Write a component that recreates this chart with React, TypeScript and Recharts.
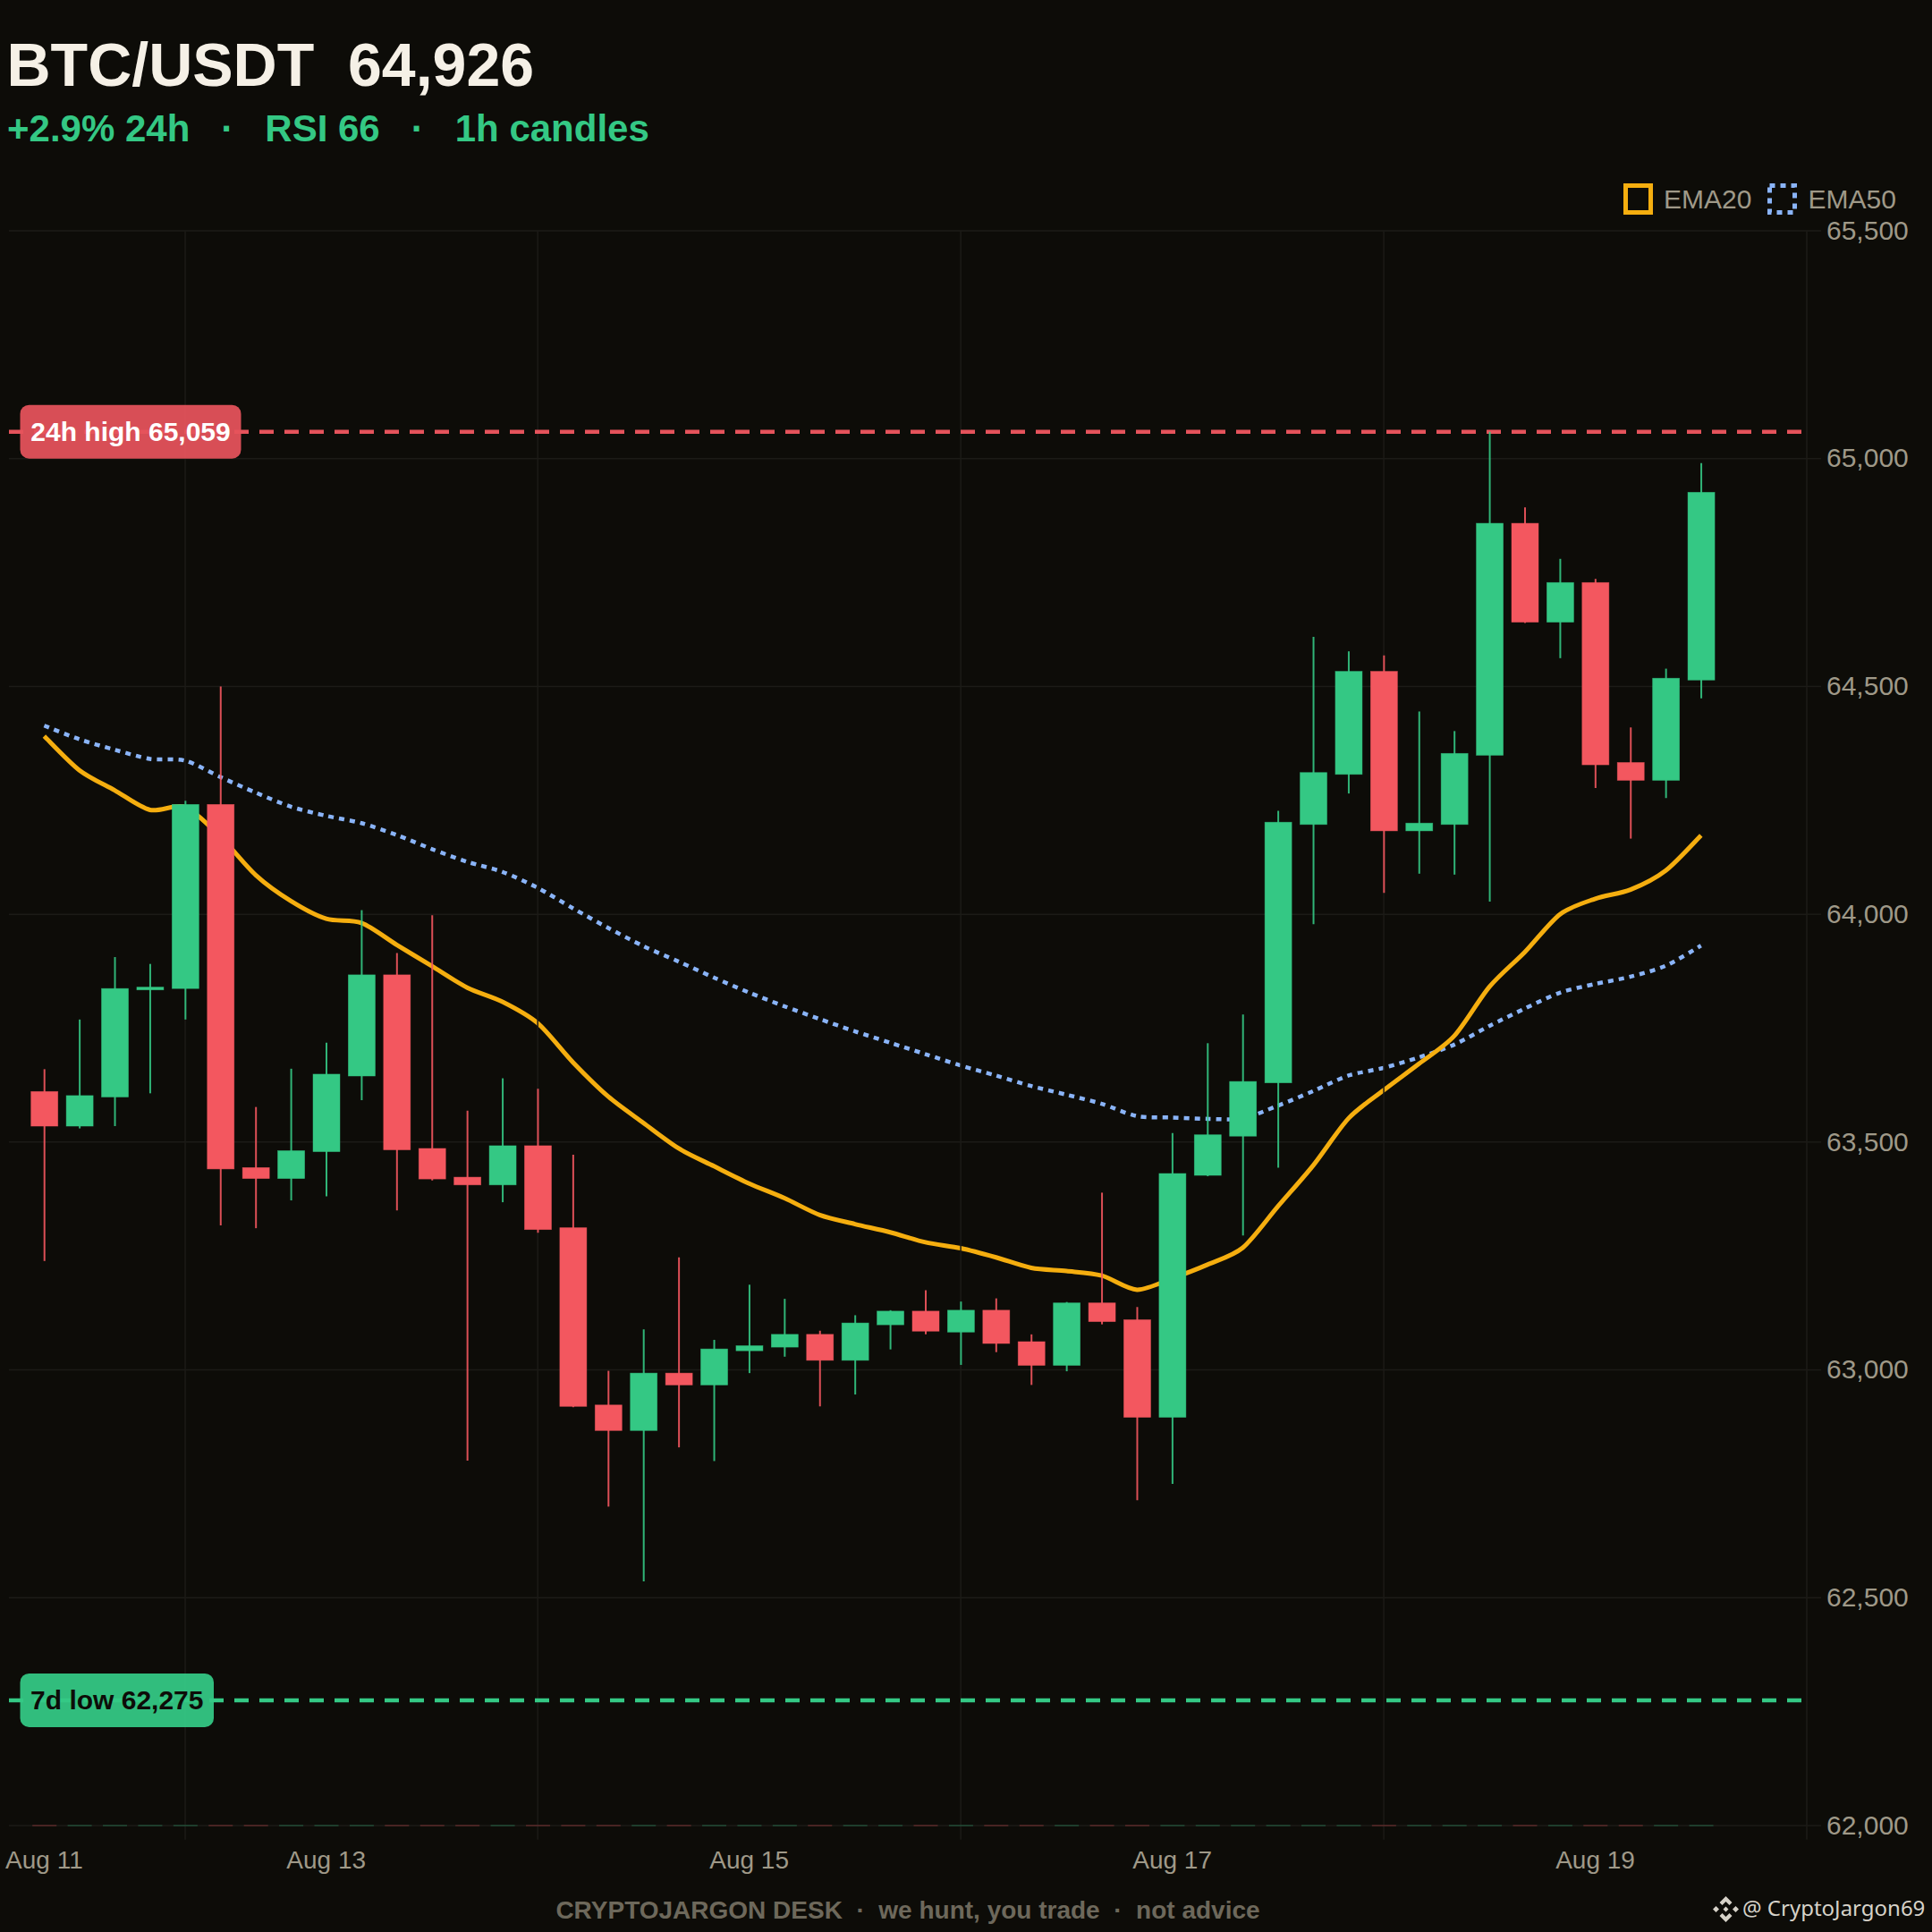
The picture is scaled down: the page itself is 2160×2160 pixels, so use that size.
import React from 'react';
import { ComposedChart, Bar, Line, XAxis, YAxis, CartesianGrid, ReferenceLine } from 'recharts';

const opens = [63611,63535,63599,63834,63837,64241,63444,63420,63479,63645,63867,63486,63423,63406,63492,63312,62923,62867,62993,62967,63042,63050,63078,63021,63099,63129,63083,63131,63062,63010,63147,63110,62896,63427,63513,63630,64197,64307,64533,64183,64197,64349,64858,64641,64728,64333,64294,64514];
const closes = [63535,63602,63837,63840,64241,63441,63420,63481,63649,63867,63483,63419,63406,63492,63308,62920,62867,62993,62967,63046,63053,63078,63021,63103,63129,63085,63131,63058,63010,63147,63106,62896,63431,63516,63633,64202,64311,64533,64183,64200,64353,64858,64641,64728,64328,64294,64518,64926];
const highs = [63660,63769,63906,63891,64249,64500,63577,63661,63718,64009,63915,63998,63569,63640,63617,63472,62998,63089,63247,63066,63187,63156,63086,63120,63131,63175,63150,63157,63078,63149,63389,63138,63520,63717,63780,64227,64609,64577,64568,64445,64402,65059,64893,64780,64736,64410,64539,64990];
const lows = [63239,63530,63535,63607,63769,63317,63311,63372,63381,63592,63350,63416,62801,63368,63301,62918,62700,62536,62830,62800,62993,63029,62920,62946,63045,63078,63011,63039,62967,62997,63100,62714,62750,63425,63295,63444,63978,64265,64047,64089,64087,64028,64639,64562,64277,64166,64255,64474];
const ema20 = [64391,64316,64272,64229,64235,64170,64086,64029,63990,63981,63933,63886,63839,63808,63761,63675,63600,63542,63486,63447,63409,63377,63340,63320,63302,63280,63267,63247,63224,63217,63207,63176,63201,63231,63268,63359,63449,63552,63614,63672,63733,63841,63917,64000,64034,64054,64096,64173];
const ema50 = [64414,64384,64361,64341,64337,64301,64267,64236,64216,64200,64174,64143,64115,64093,64058,64013,63970,63930,63896,63861,63828,63798,63770,63743,63718,63693,63668,63646,63623,63604,63584,63557,63554,63551,63552,63580,63612,63646,63663,63686,63714,63755,63793,63828,63847,63863,63887,63931];

const xTickIndexes = [0, 8, 20, 32, 44];
const xTickLabels = ['Aug 11', 'Aug 13', 'Aug 15', 'Aug 17', 'Aug 19'];
const yTicks = [62000, 62500, 63000, 63500, 64000, 64500, 65000, 65500];
const verticalGridIndexes = [4, 14, 26, 38, 50];
const high24h = 65059;
const low7d = 62275;

const rows = opens.map((open, i) => ({
  i,
  open,
  close: closes[i],
  high: highs[i],
  low: lows[i],
  range: [lows[i], highs[i]],
  ema20: ema20[i],
  ema50: ema50[i],
}));

const BG = '#0d0c08';
const GRID = '#1c1b17';
const MUTED = '#9f9988';
const GREEN = '#34c884';
const RED = '#f3575f';
const FONT = '"Liberation Sans", Arial, sans-serif';

// A gently rounded line curve: corners are softened without the overshoot of a spline.
const softCurve = (ctx: any) => {
  const k = 0.14;
  let pts: number[][] = [];
  return {
    areaStart() {},
    areaEnd() {},
    lineStart() {
      pts = [];
    },
    point(x: number, y: number) {
      pts.push([+x, +y]);
    },
    lineEnd() {
      if (!pts.length) return;
      ctx.moveTo(pts[0][0], pts[0][1]);
      for (let i = 0; i < pts.length - 1; i++) {
        const p0 = pts[Math.max(i - 1, 0)];
        const p1 = pts[i];
        const p2 = pts[i + 1];
        const p3 = pts[Math.min(i + 2, pts.length - 1)];
        ctx.bezierCurveTo(
          p1[0] + (p2[0] - p0[0]) * k,
          p1[1] + (p2[1] - p0[1]) * k,
          p2[0] - (p3[0] - p1[0]) * k,
          p2[1] - (p3[1] - p1[1]) * k,
          p2[0],
          p2[1],
        );
      }
    },
  };
};

const Candle = (props: any) => {
  const { x, y, width, height, payload } = props;
  const perUnit = height / (payload.high - payload.low);
  const at = (v: number) => y + (payload.high - v) * perUnit;
  const up = payload.close >= payload.open;
  const color = up ? GREEN : RED;
  const cx = x + width / 2;
  const top = at(Math.max(payload.open, payload.close));
  const bottom = at(Math.min(payload.open, payload.close));
  const base = at(62000);
  return (
    <g>
      <line x1={cx - 13.5} x2={cx + 13.5} y1={base} y2={base} stroke={color} strokeWidth={1.5} strokeOpacity={0.3} />
      <line x1={cx} x2={cx} y1={y} y2={y + height} stroke={color} strokeWidth={2} strokeOpacity={0.9} />
      <rect x={cx - 15} y={top} width={30} height={bottom - top} fill={color} stroke={color} strokeOpacity={0.6} strokeWidth={0.75} />
    </g>
  );
};

const Badge = (props: any) => {
  const { viewBox, text, fill, color, w } = props;
  const cy = viewBox.y;
  return (
    <g>
      <rect x={22.5} y={cy - 30} width={w} height={60} rx={10} fill={fill} fillOpacity={0.94} />
      <text x={22.5 + w / 2} y={cy + 10} textAnchor="middle" fill={color} fontFamily={FONT} fontWeight={700} fontSize={30}>
        {text}
      </text>
    </g>
  );
};

const abs = (x: number, y: number, extra: any): any => ({
  position: 'absolute',
  left: x,
  top: y,
  whiteSpace: 'pre',
  fontFamily: FONT,
  lineHeight: 1,
  ...extra,
});

export default function App() {
  return (
    <div style={{ position: 'absolute', left: 0, top: 0, width: 2160, height: 2160, background: BG, overflow: 'hidden' }}>
      <div style={abs(7.5, 38, { fontSize: 68, fontWeight: 700, color: '#f5f0e6' })}>{'BTC/USDT  64,926'}</div>
      <div style={abs(8, 123, { fontSize: 42, fontWeight: 700, color: GREEN })}>{'+2.9% 24h   ·   RSI 66   ·   1h candles'}</div>

      <svg style={{ position: 'absolute', left: 1810, top: 200 }} width={210} height={46}>
        <rect x={7.5} y={7.5} width={28} height={30} fill="none" stroke="#f5ae0f" strokeWidth={5} />
        <rect x={168.5} y={7.5} width={28} height={30} fill="none" stroke="#8ab4f8" strokeWidth={5} strokeDasharray="6 6" />
      </svg>
      <div style={abs(1860, 208, { fontSize: 30, color: MUTED })}>EMA20</div>
      <div style={abs(2021.5, 208, { fontSize: 30, color: MUTED })}>EMA50</div>

      <div style={{ position: 'absolute', left: 0, top: 0 }}>
        <ComposedChart
          width={2160}
          height={2160}
          data={rows}
          margin={{ top: 258, right: 0, bottom: 0, left: 10 }}
        >
          <CartesianGrid vertical={false} stroke={GRID} strokeWidth={1.5} />
          {verticalGridIndexes.map((v) => (
            <ReferenceLine
              key={v}
              ifOverflow="visible"
              segment={[{ x: v, y: 65500 }, { x: v, y: 61969 }]}
              stroke={GRID}
              strokeWidth={1.5}
            />
          ))}
          <XAxis
            dataKey="i"
            type="number"
            domain={[-1, 50]}
            ticks={xTickIndexes}
            tickFormatter={(v: number) => xTickLabels[xTickIndexes.indexOf(v)]}
            interval={0}
            height={119}
            axisLine={false}
            tickLine={false}
            tickMargin={22}
            tick={{ fill: MUTED, fontSize: 28, fontFamily: FONT }}
          />
          <YAxis
            orientation="right"
            width={140}
            domain={[62000, 65500]}
            ticks={yTicks}
            interval={0}
            tickFormatter={(v: number) => v.toLocaleString('en-US')}
            axisLine={false}
            tickSize={16}
            tickMargin={6}
            tickLine={{ stroke: GRID, strokeWidth: 1.5 }}
            tick={{ fill: MUTED, fontSize: 30, fontFamily: FONT, dy: -1 }}
          />
          <ReferenceLine
            segment={[{ x: -1, y: high24h }, { x: 50, y: high24h }]}
            stroke="#e5535b"
            strokeWidth={4.5}
            strokeDasharray="16 12"
            label={<Badge text="24h high 65,059" fill="#e5535b" color="#ffffff" w={247} />}
          />
          <ReferenceLine
            segment={[{ x: -1, y: low7d }, { x: 50, y: low7d }]}
            stroke="#34c985"
            strokeWidth={4.5}
            strokeDasharray="16 12"
            label={<Badge text="7d low 62,275" fill="#34c985" color={BG} w={216.5} />}
          />
          <Line dataKey="ema50" type={softCurve as any} stroke="#8ab4f8" strokeWidth={4.5} strokeDasharray="6 6" dot={false} isAnimationActive={false} zIndex={100} />
          <Line dataKey="ema20" type={softCurve as any} stroke="#f5ae0f" strokeWidth={5} strokeLinejoin="round" dot={false} isAnimationActive={false} zIndex={100} />
          <Bar dataKey="range" barSize={30} shape={<Candle />} isAnimationActive={false} zIndex={500} />
        </ComposedChart>
      </div>

      <div style={{ ...abs(10, 2122, { fontSize: 28, fontWeight: 700, color: '#6d685b' }), width: 2010, textAlign: 'center' }}>
        {'CRYPTOJARGON DESK  ·  we hunt, you trade  ·  not advice'}
      </div>
      <svg style={{ position: 'absolute', left: 1915, top: 2120 }} width={29} height={29} viewBox="0 0 29 29">
        <path d="M14.5 0 L21.5 7 L18.5 10 L14.5 6 L10.5 10 L7.5 7 Z M14.5 29 L7.5 22 L10.5 19 L14.5 23 L18.5 19 L21.5 22 Z M3.5 11 L7 14.5 L3.5 18 L0 14.5 Z M25.5 11 L29 14.5 L25.5 18 L22 14.5 Z M14.5 11.5 L17.5 14.5 L14.5 17.5 L11.5 14.5 Z" fill="#d6d2c8" />
      </svg>
      <div style={abs(1948, 2121, { fontSize: 24, color: '#d6d2c8', fontFamily: '"Noto Sans", sans-serif' })}>@ CryptoJargon69</div>
    </div>
  );
}
